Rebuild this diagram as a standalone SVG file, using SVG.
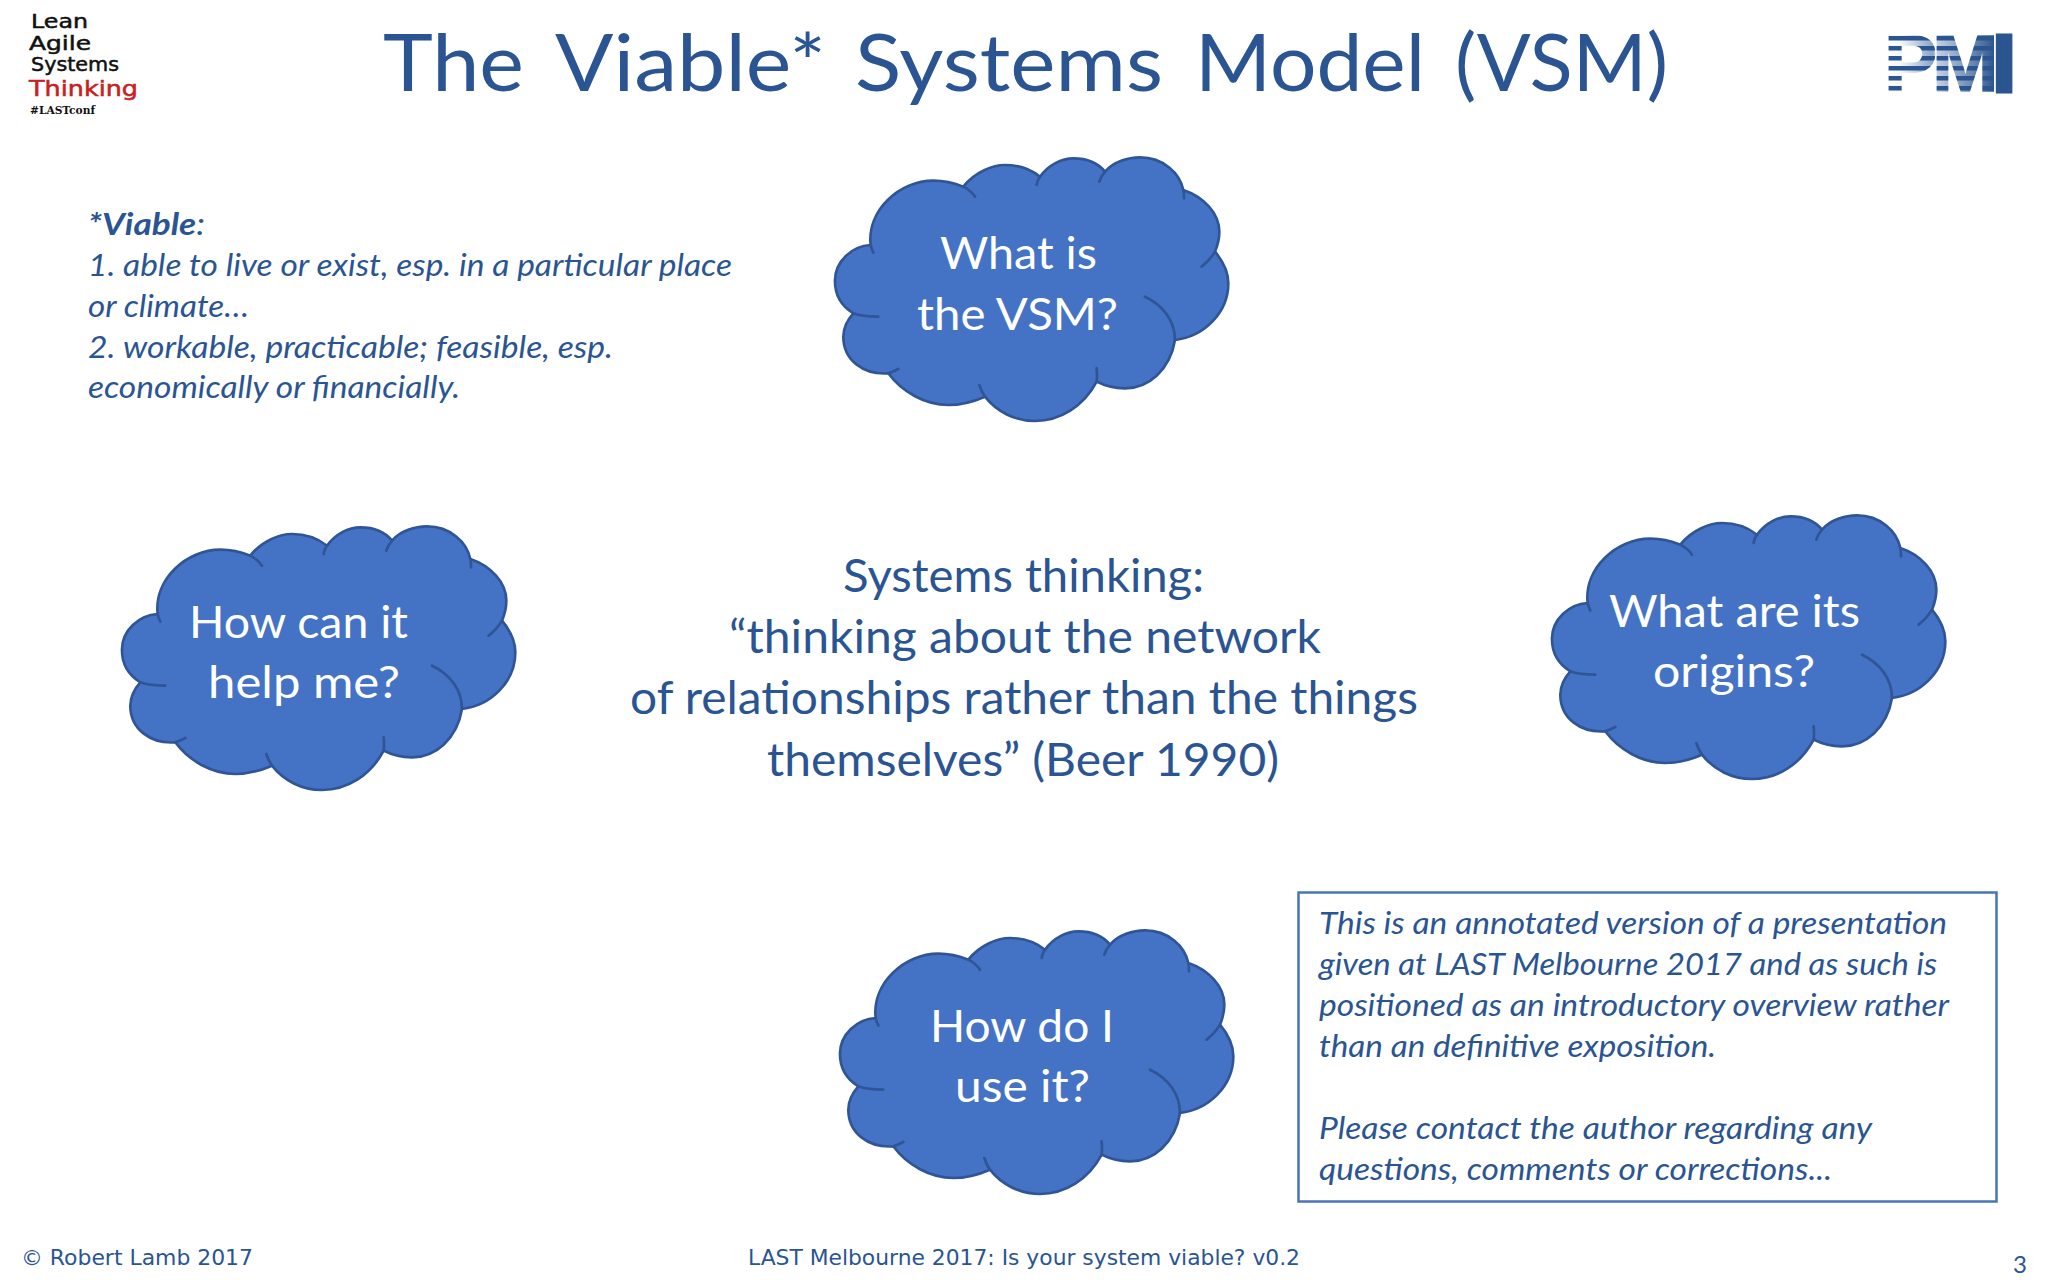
<svg xmlns="http://www.w3.org/2000/svg" width="2048" height="1280" viewBox="0 0 2048 1280">
<style>
text{font-family:"Lato","Carlito","Open Sans",sans-serif;fill:#2a5592}
.title{font-size:80px}
.note{font-size:30px;font-style:italic}
.center{font-size:46px}
.cloudtxt{font-size:45px;fill:#fff}
.box{font-size:30px;font-style:italic}
.foot{font-family:"DejaVu Sans",sans-serif;font-size:21px}
.hand{font-family:"DejaVu Sans",sans-serif;font-size:19px;fill:#111;stroke:#111;stroke-width:.5}
.cloudfill{fill:#4472c4;stroke:#2f5597;stroke-width:8;stroke-linejoin:round}
.tail{fill:none;stroke:#2f5597;stroke-width:8;stroke-linecap:round}
</style>
<defs>
<linearGradient id="pmiGrad" gradientUnits="userSpaceOnUse" x1="0" y1="0" x2="130" y2="0">
<stop offset="0" stop-color="#ffffff"/><stop offset="0.12" stop-color="#f4f6fa"/><stop offset="0.37" stop-color="#8aa4c8"/><stop offset="0.39" stop-color="#c8d4e6"/><stop offset="0.8" stop-color="#3f6599"/><stop offset="0.84" stop-color="#2a5590"/><stop offset="1" stop-color="#2a5590"/>
</linearGradient>
<pattern id="pmiStripes" patternUnits="userSpaceOnUse" x="1885" y="36" width="130" height="10">
<rect width="130" height="10" fill="url(#pmiGrad)"/>
<rect width="130" height="4.5" fill="#2a5590"/>
</pattern>
<g id="cloud" transform="scale(0.33333)">
<path class="cloudfill" d="M100,520C60,495 44,460 45,420C46,365 95,318 152,315C140,210 240,122 340,122C375,122 405,130 430,140C465,95 520,75 555,75C600,75 635,90 660,110C685,75 725,55 760,55C800,55 835,70 855,95C880,65 925,52 960,52C1030,52 1080,100 1090,150C1150,170 1198,220 1198,275C1198,295 1192,318 1185,335C1210,365 1225,400 1225,430C1225,520 1150,590 1065,600C1050,690 985,745 915,745C885,745 855,738 830,725C790,800 720,843 645,843C585,843 530,815 495,770C460,785 425,795 385,795C315,795 245,755 205,700C130,705 70,660 70,590C70,565 82,540 100,520Z"/>
<path class="tail" d="M100,520C120,528 150,530 175,530M152,315C153,322 156,330 160,338M430,140C445,148 457,158 465,170M660,110C654,118 651,127 650,135M855,95C848,103 842,113 838,125M1090,150C1092,158 1092,167 1092,175M1185,335C1175,352 1160,368 1145,380M975,470C1030,495 1065,545 1065,600M830,725C832,712 831,698 830,685M495,770C488,760 482,748 478,735M205,700C215,697 225,692 235,687"/>
</g>
</defs>
<rect width="2048" height="1280" fill="#fff"/>
<g id="logo-last">
<text class="hand" x="31" y="28" textLength="57" lengthAdjust="spacingAndGlyphs">Lean</text>
<text class="hand" x="29" y="50" textLength="62" lengthAdjust="spacingAndGlyphs">Agile</text>
<text class="hand" x="31" y="71" textLength="88" lengthAdjust="spacingAndGlyphs">Systems</text>
<text class="hand" x="29" y="96" textLength="109" lengthAdjust="spacingAndGlyphs" style="font-size:21px;fill:#c8201f;stroke:#c8201f">Thinking</text>
<text x="30" y="114" textLength="65" lengthAdjust="spacingAndGlyphs" style="font-family:'DejaVu Serif',serif;font-weight:bold;font-size:11px;fill:#111">#LASTconf</text>
</g>
<g id="title"><text class="title" y="91"><tspan x="383" textLength="141" lengthAdjust="spacingAndGlyphs">The</tspan> <tspan x="555" textLength="271" lengthAdjust="spacingAndGlyphs">Viable*</tspan> <tspan x="855" textLength="308" lengthAdjust="spacingAndGlyphs">Systems</tspan> <tspan x="1195" textLength="230" lengthAdjust="spacingAndGlyphs">Model</tspan> <tspan x="1455" textLength="213" lengthAdjust="spacingAndGlyphs">(VSM)</tspan></text></g>
<g id="logo-pmi">
<text x="1884 1932 1993" y="91" style="font-family:'Liberation Sans',sans-serif;font-weight:bold;font-size:80px;fill:url(#pmiStripes);stroke:url(#pmiStripes);stroke-width:1.5">PM<tspan style="fill:#2a5590;stroke:#2a5590;stroke-width:5">I</tspan></text>
</g>
<g id="definition">
<text class="note" x="88" y="235" textLength="117" lengthAdjust="spacingAndGlyphs"><tspan font-weight="bold">*Viable</tspan>:</text>
<text class="note" x="88" y="276" textLength="644" lengthAdjust="spacingAndGlyphs">1. able to live or exist, esp. in a particular place</text>
<text class="note" x="88" y="317" textLength="161" lengthAdjust="spacingAndGlyphs">or climate…</text>
<text class="note" x="88" y="358" textLength="525" lengthAdjust="spacingAndGlyphs">2. workable, practicable; feasible, esp.</text>
<text class="note" x="88" y="398" textLength="372" lengthAdjust="spacingAndGlyphs">economically or financially.</text>
</g>
<g id="node-what-is">
<use href="#cloud" transform="translate(820 140)"/>
<text class="cloudtxt" x="940" y="269" textLength="157" lengthAdjust="spacingAndGlyphs">What is</text>
<text class="cloudtxt" x="917" y="330" textLength="201" lengthAdjust="spacingAndGlyphs">the VSM?</text>
</g>
<g id="node-how-help">
<use href="#cloud" transform="translate(107 509)"/>
<text class="cloudtxt" x="189" y="638" textLength="219" lengthAdjust="spacingAndGlyphs">How can it</text>
<text class="cloudtxt" x="208" y="698" textLength="192" lengthAdjust="spacingAndGlyphs">help me?</text>
</g>
<g id="node-origins">
<use href="#cloud" transform="translate(1537 498)"/>
<text class="cloudtxt" x="1609" y="627" textLength="251" lengthAdjust="spacingAndGlyphs">What are its</text>
<text class="cloudtxt" x="1653" y="687" textLength="162" lengthAdjust="spacingAndGlyphs">origins?</text>
</g>
<g id="node-how-use">
<use href="#cloud" transform="translate(825 913)"/>
<text class="cloudtxt" x="930" y="1042" textLength="184" lengthAdjust="spacingAndGlyphs">How do I</text>
<text class="cloudtxt" x="955" y="1102" textLength="135" lengthAdjust="spacingAndGlyphs">use it?</text>
</g>
<g id="systems-thinking">
<text class="center" x="843" y="592" textLength="361" lengthAdjust="spacingAndGlyphs">Systems thinking:</text>
<text class="center" x="729" y="653" textLength="592" lengthAdjust="spacingAndGlyphs">“thinking about the network</text>
<text class="center" x="630" y="714" textLength="788" lengthAdjust="spacingAndGlyphs">of relationships rather than the things</text>
<text class="center" x="767" y="776" textLength="512" lengthAdjust="spacingAndGlyphs">themselves” (Beer 1990)</text>
</g>
<g id="note-box">
<rect x="1298.5" y="892.5" width="698" height="309" fill="#fff" stroke="#4a74b8" stroke-width="2.5"/>
<text class="box" x="1319" y="934" textLength="628" lengthAdjust="spacingAndGlyphs">This is an annotated version of a presentation</text>
<text class="box" x="1319" y="975" textLength="618" lengthAdjust="spacingAndGlyphs">given at LAST Melbourne 2017 and as such is</text>
<text class="box" x="1319" y="1016" textLength="630" lengthAdjust="spacingAndGlyphs">positioned as an introductory overview rather</text>
<text class="box" x="1319" y="1057" textLength="397" lengthAdjust="spacingAndGlyphs">than an definitive exposition.</text>
<text class="box" x="1319" y="1139" textLength="553" lengthAdjust="spacingAndGlyphs">Please contact the author regarding any</text>
<text class="box" x="1319" y="1180" textLength="513" lengthAdjust="spacingAndGlyphs">questions, comments or corrections...</text>
</g>
<g id="footer">
<text class="foot" x="21" y="1265" textLength="232" lengthAdjust="spacingAndGlyphs">© Robert Lamb 2017</text>
<text class="foot" x="748" y="1265" textLength="552" lengthAdjust="spacingAndGlyphs">LAST Melbourne 2017: Is your system viable? v0.2</text>
<text x="2013" y="1273" style="font-size:24px">3</text>
</g>
</svg>
